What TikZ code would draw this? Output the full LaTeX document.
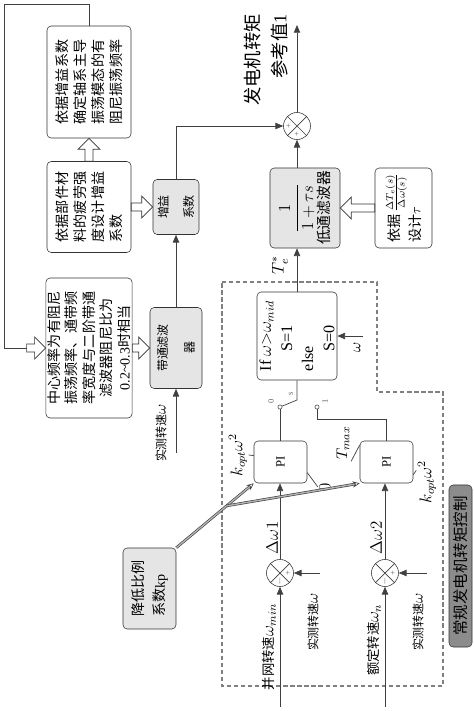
\documentclass[tikz,border=0pt]{standalone}
\usepackage{fontspec}
\setmainfont{Liberation Serif}
\newfontfamily\cjk{Noto Sans CJK SC}
\usepackage{amsmath}
\usetikzlibrary{calc,arrows.meta,positioning}
\tikzset{
    box/.style={
    rectangle,rounded corners=3pt,draw=black!80,rotate=90,align=center,inner sep=1pt,
    font=\cjk\fontsize{10}{12.8}\selectfont
    },
    gbox/.style={
    box,fill=black!10
    },
    sumnode/.style={
    circle,draw=black!80,minimum size=0.675cm,inner sep=0pt
    },
    lab/.style={
    rotate=90,inner sep=1pt,font=\cjk\fontsize{8.5}{10}\selectfont
    },
    mlab/.style={
    rotate=90,inner sep=1pt,font=\fontsize{12}{13}\selectfont
    },
    pm/.style={
    rotate=90,inner sep=0pt,font=\fontsize{6}{6}\selectfont,text=black!60
    },
    contact/.style={
    circle,draw=black!70,minimum size=3pt,inner sep=0pt
    },
    wire/.style={
    draw=black!75,line width=0.5pt
    },
    sig/.style={
    wire,-{Triangle[length=5.5pt,width=4.5pt]}
    },
    dbl/.style={
    draw=black!75,line width=0.45pt,double=black!30,double distance=1pt,-{Stealth[length=5pt,width=4.5pt,open]}
    },
    region/.style={
    draw=black!50,line width=0.9pt,dash pattern=on 3pt off 2pt
    },
}
% hollow block arrow from #1 to #2
\newcommand{\blockarrow}[2]{%
  \coordinate (hb) at ($(#2)!2.75mm!(#1)$);
  \draw[draw=black!80,fill=white,line width=0.5pt] ($(#1)!1mm!90:(#2)$) -- ($(hb)!1mm!-90:(#1)$)
    -- ($(hb)!2.75mm!-90:(#1)$) -- (#2) -- ($(hb)!2.75mm!90:(#1)$)
    -- ($(hb)!1mm!90:(#1)$) -- ($(#1)!1mm!-90:(#2)$) -- cycle;}
\newcommand{\bigw}{{\fontsize{11}{11}\selectfont$\omega$}}

\begin{document}
\begin{tikzpicture}[x=0.025cm, y=-0.025cm]
\useasboundingbox (0,0) rectangle (474,711);
   % dashed region of the conventional control
   \draw[region] (222,282) -- (377,282) -- (377,392) -- (443,392) -- (443,686) -- (222,686) -- cycle;

   % design column
   \node[box,minimum width=2.8cm,minimum height=2.1cm] (A) at (89,82) {依据增益系数\\确定轴系主导\\振荡模态的有\\阻尼振荡频率};
   \node[box,align=left,minimum width=2.275cm,minimum height=2.1cm] (B) at (89,207) {依据部件材\\料的疲劳强\\度设计增益\\系数};
   \node[box,minimum width=3.5cm,minimum height=2.1cm,font=\cjk\fontsize{10}{12.5}\selectfont] (C) at (89,348) {中心频率为有阻尼\\振荡频率、通带频\\率宽度与二阶带通\\滤波器阻尼比为\\{\rmfamily 0.2\textasciitilde0.3}时相当};
   \coordinate (fbcorner) at (4,4);
   \coordinate (fb) at ($(C.north)+(-19,0)$);

   % filter path
   \node[gbox,minimum width=1.375cm,minimum height=1.15cm,font=\cjk\fontsize{8.5}{18}\selectfont] (G) at (176,207) {增益\\系数};
   \node[gbox,minimum width=2.025cm,minimum height=1.3cm,font=\cjk\fontsize{8.5}{19}\selectfont] (BPF) at (176,348) {带通滤波\\器};
   \coordinate (wbpf) at (176,453);
   \node[lab] (wbpflab) at (161,433) {实测转速\bigw};

   % output side
   \node[sumnode] (S0) at (297,126) {};
   \coordinate (out) at (297,25);
   \node[rotate=90,inner sep=1pt,align=right,font=\cjk\fontsize{13}{19}\selectfont] (title) at (266,60) {发电机转矩\\参考值{\rmfamily 1}};
   \node[gbox,minimum width=2cm,minimum height=1.75cm] (LPF) at (305,208) {{\fontsize{12.5}{15}\selectfont$\dfrac{1}{1+\tau s}$}\\[1pt]{\fontsize{10.5}{12}\selectfont 低通滤波器}};
   \node[box,align=left,minimum width=2cm,minimum height=1.425cm] (D) at (403.5,208) {依据\,$\frac{\Delta T_e(s)}{\Delta\omega(s)}$\\设计$\tau$};
   \node[mlab] (Te) at (280,265) {$T_e^*$};

   % selector and switch
   \node[box,align=left,minimum width=2.2cm,minimum height=2cm,font=\fontsize{11.5}{15}\selectfont] (SW) at (297,336) {If $\omega{>}\omega_{mid}$\\\hspace*{1.2em}S=1\\else\\\hspace*{1.2em}S=0};
   \coordinate (wsw) at (363,336);
   \node[mlab,font=\fontsize{11}{12}\selectfont] (wlab) at (357,347) {$\omega$};
   \coordinate (piv) at (297,400);
   \node[contact] (c0) at (280,407) {};
   \node[contact] (c1) at (317,407) {};
   \node[pm] (l0) at (271,401) {0};
   \node[pm] (l1) at (325,401) {1};
   \node[pm] (ls) at (291,394) {s};

   % PI loops
   \node[box,minimum width=1.05cm,minimum height=1.325cm,font=\fontsize{9}{10}\selectfont] (PI1) at (280.5,462) {PI};
   \node[box,minimum width=1.05cm,minimum height=1.325cm,font=\fontsize{9}{10}\selectfont] (PI2) at (386.5,462) {PI};
   \node[mlab] (k1) at (238,455) {$k_{opt}\omega^2$};
   \node[mlab,font=\fontsize{11}{12}\selectfont] (tmax) at (343,443) {$T_{max}$};
   \node[mlab] (zero) at (325,487) {$0$};
   \node[mlab] (k2) at (427,482) {$k_{opt}\omega^2$};
   \node[sumnode] (s1) at (280,573) {};
   \node[sumnode] (s2) at (385,573) {};
   \node[mlab,font=\fontsize{13}{14}\selectfont] (dw1) at (272,538) {$\Delta\omega 1$};
   \node[mlab,font=\fontsize{13}{14}\selectfont] (dw2) at (376,538) {$\Delta\omega 2$};
   \coordinate (wmin) at (280,707);
   \coordinate (wn) at (385,707);
   \coordinate (w1) at (320,573);
   \coordinate (w2) at (427,573);
   \node[lab,font=\cjk\fontsize{9.5}{11}\selectfont] (wminlab) at (269,647) {并网转速{\fontsize{12}{12}\selectfont$\omega_{min}$}};
   \node[lab,font=\cjk\fontsize{9.5}{11}\selectfont] (wnlab) at (374,640) {额定转速{\fontsize{12}{12}\selectfont$\omega_n$}};
   \node[lab] (w1lab) at (313,622) {实测转速\bigw};
   \node[lab] (w2lab) at (418,622) {实测转速\bigw};
   \node[gbox,align=left,minimum width=2.025cm,minimum height=1.325cm,font=\cjk\fontsize{10}{15.5}\selectfont] (kp) at (149.5,588.5) {降低比例\\系数{\rmfamily kp}};
   \node[box,fill=black!45,minimum width=4.05cm,minimum height=0.575cm,font=\cjk\fontsize{11}{12}\selectfont] (ctrl) at (460.5,566) {常规发电机转矩控制};

   % summing junction crosses and signs
   \foreach \s in {S0,s1,s2}
     \draw[wire] (\s.45) -- (\s.225) (\s.135) -- (\s.315);
   \node[pm] (S0a) at ($(S0.west)+(5.5,0)$) {+};
   \node[pm] (S0b) at ($(S0.south)+(0,-6)$) {+};
   \node[pm] (s1a) at ($(s1.east)+(-5.5,0)$) {+};
   \node[pm] (s1b) at ($(s1.south)+(0,-5)$) {$-$};
   \node[pm] (s2a) at ($(s2.east)+(-5.5,0)$) {+};
   \node[pm] (s2b) at ($(s2.south)+(0,-5)$) {$-$};

   % block arrows
   \blockarrow{B.east}{A.west}
   \blockarrow{B.south}{G.north}
   \blockarrow{fb}{C.north}
   \blockarrow{C.south}{BPF.north}
   \blockarrow{D.north}{LPF.south}

   % signal lines
   \draw[wire] (A.east) |- (fbcorner) |- (fb);
   \draw[sig] (wbpf) -- (BPF.west);
   \draw[sig] (BPF.east) -- (G.west);
   \draw[sig] (G.east) |- (S0.west);
   \draw[sig] (S0 |- LPF.east) -- (S0.south);
   \draw[sig] (S0.north) -- (out);
   \draw[sig] (SW.east) -- (SW.east |- LPF.west);
   \draw[sig] (wsw) -- (SW.south);
   \draw[wire] (SW.west) -- (piv) -- (c0);
   \draw[wire] (c0) -- (c0 |- PI1.east);
   \draw[wire] (c1.south) -- ++(0,10) -| (PI2.east);
   \draw[sig] (s1.north) -- (s1.north |- PI1.west);
   \draw[sig] (s2.north) -- (s2.north |- PI2.west);
   \draw[sig] (wmin) -- (s1.south);
   \draw[sig] (wn) -- (s2.south);
   \draw[sig] (w1) -- (s1.east);
   \draw[sig] (w2) -- (s2.east);

   % leaders of the limits
   \draw[wire] (k1.south) -- ($(PI1.north)!0.3!(PI1.north east)$);
   \draw[wire] (tmax.south west) -- ($(PI2.north east)!0.2!(PI2.north)$);
   \draw[wire] ($(PI1.south)!0.5!(PI1.south west)$) -- (zero.north);
   \draw[wire] ($(PI2.south)!0.6!(PI2.south west)$) -- ($(k2.north)!0.5!(k2.north east)$);

   % reduced kp
   \coordinate (kpfork) at ($(kp.south east)!0.65!(PI1.north west)$);
   \draw[dbl] (kp.south east) -- (PI1.north west);
   \draw[dbl] (kpfork) -- (PI2.north west);
\end{tikzpicture}
\end{document}
